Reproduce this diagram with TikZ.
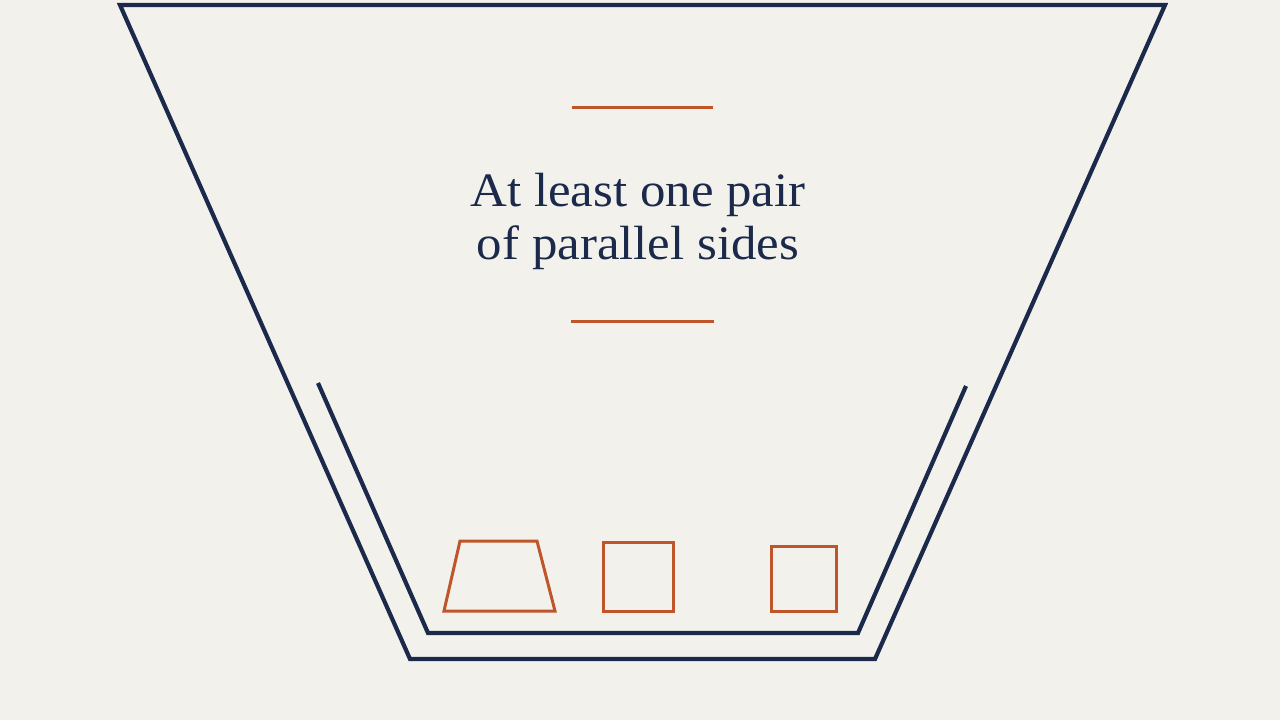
\documentclass[tikz,border=0pt]{standalone}
\usepackage{fontspec}
\setmainfont{Liberation Serif}
\definecolor{bg}{HTML}{F2F1EC}
\definecolor{navy}{HTML}{1B2A4A}
\definecolor{rust}{HTML}{C0552A}
\begin{document}
\begin{tikzpicture}[x=1pt,y=-1pt,
  navyline/.style={draw=navy,line width=4.2pt,line join=miter},
  rustline/.style={draw=rust,line width=3pt,line join=miter},
  label/.style={text=navy,font=\fontsize{48}{53}\selectfont,anchor=base,inner sep=0pt,xscale=1.06}]
\fill[bg] (0,0) rectangle (1280,720);
\useasboundingbox (0,0) rectangle (1280,720);
% outer trapezoid
\draw[navyline] (120,5) -- (1165,5) -- (875,659) -- (410,659) -- cycle;
% inner open container
\coordinate (il) at (318,383);
\coordinate (ir) at (966,386);
\draw[navyline] (il) -- (428,633) -- (858,633) -- (ir);
% orange rules
\coordinate (t1) at (572,107); \coordinate (t2) at (713,107);
\coordinate (b1) at (571,321); \coordinate (b2) at (714,321);
\draw[rustline] (t1) -- (t2);
\draw[rustline] (b1) -- (b2);
% text
\node[label] (l1) at (638,206) {At least one pair};
\node[label] (l2) at (638,259) {of parallel sides};
% small shapes
\draw[rustline] (460,541) -- (537,541) -- (555,611) -- (444,611) -- cycle;
\draw[rustline] (603,542) rectangle (673,611);
\draw[rustline] (771,546) rectangle (836,611);
\end{tikzpicture}
\end{document}
